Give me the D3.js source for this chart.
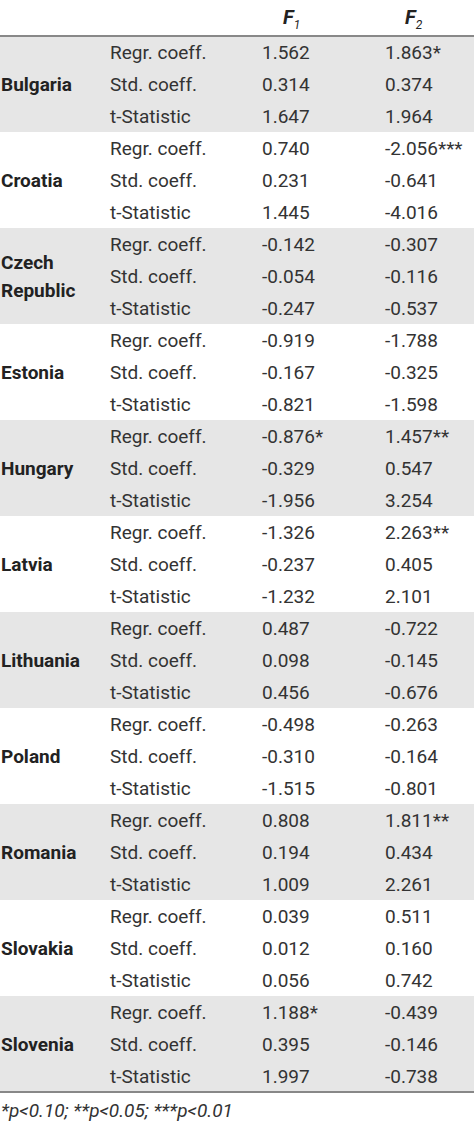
<!DOCTYPE html><html><head><meta charset="utf-8">
<script src="https://cdn.jsdelivr.net/npm/d3@7"></script>
<style>body{margin:0;background:#fff}svg{display:block;font-family:Roboto,sans-serif}</style></head><body>
<script>
const countries=["Bulgaria","Croatia","Czech\nRepublic","Estonia","Hungary","Latvia","Lithuania","Poland","Romania","Slovakia","Slovenia"];
const stats=["Regr. coeff.","Std. coeff.","t-Statistic"];
const f1=[["1.562","0.314","1.647"],["0.740","0.231","1.445"],["-0.142","-0.054","-0.247"],["-0.919","-0.167","-0.821"],["-0.876*","-0.329","-1.956"],["-1.326","-0.237","-1.232"],["0.487","0.098","0.456"],["-0.498","-0.310","-1.515"],["0.808","0.194","1.009"],["0.039","0.012","0.056"],["1.188*","0.395","1.997"]];
const f2=[["1.863*","0.374","1.964"],["-2.056***","-0.641","-4.016"],["-0.307","-0.116","-0.537"],["-1.788","-0.325","-1.598"],["1.457**","0.547","3.254"],["2.263**","0.405","2.101"],["-0.722","-0.145","-0.676"],["-0.263","-0.164","-0.801"],["1.811**","0.434","2.261"],["0.511","0.160","0.742"],["-0.439","-0.146","-0.738"]];
const note="*p<0.10; **p<0.05; ***p<0.01";
const W=474,H=1128,topY=36,gh=96,rh=32;
const svg=d3.select("body").append("svg").attr("width",W).attr("height",H);
const y=d3.scaleBand().domain(d3.range(countries.length)).range([topY,topY+gh*countries.length]);
const g=svg.selectAll("g.grp").data(countries).join("g").attr("transform",(d,i)=>`translate(0,${y(i)})`);
g.filter((d,i)=>i%2==0).append("rect").attr("width",W).attr("height",gh).attr("fill","#e6e6e6");
g.each(function(c,i){
  const s=d3.select(this);
  const lines=c.split("\n");
  const t=s.append("text").attr("x",1).attr("font-weight","bold").attr("font-size",19).attr("fill","#222")
    .attr("y",gh/2+7-(lines.length-1)*14);
  lines.forEach((l,k)=>t.append("tspan").attr("x",1).attr("dy",k?28:0).text(l));
  stats.forEach((st,r)=>{
    const yy=r*rh+rh/2+7;
    s.append("text").attr("x",110).attr("y",yy).attr("font-size",19).attr("fill","#333").text(st);
    s.append("text").attr("x",262).attr("y",yy).attr("font-size",19).attr("fill","#333").text(f1[i][r]);
    s.append("text").attr("x",385).attr("y",yy).attr("font-size",19).attr("fill","#333").text(f2[i][r]);
  });
});
[["F","1",283],["F","2",405]].forEach(([a,b,x])=>{
  const t=svg.append("text").attr("x",x).attr("y",24).attr("font-size",20).attr("font-weight","bold").attr("font-style","italic").attr("fill","#222");
  t.append("tspan").text(a);
  t.append("tspan").attr("dy",5).attr("font-size",12).attr("font-weight","normal").text(b);
});
svg.append("line").attr("x1",0).attr("x2",W).attr("y1",topY).attr("y2",topY).attr("stroke","#888").attr("stroke-width",2);
svg.append("line").attr("x1",0).attr("x2",W).attr("y1",topY+gh*11).attr("y2",topY+gh*11).attr("stroke","#888").attr("stroke-width",2);
svg.append("text").attr("x",1).attr("y",1117).attr("font-size",19).attr("font-style","italic").attr("fill","#333").text(note);
</script></body></html>
